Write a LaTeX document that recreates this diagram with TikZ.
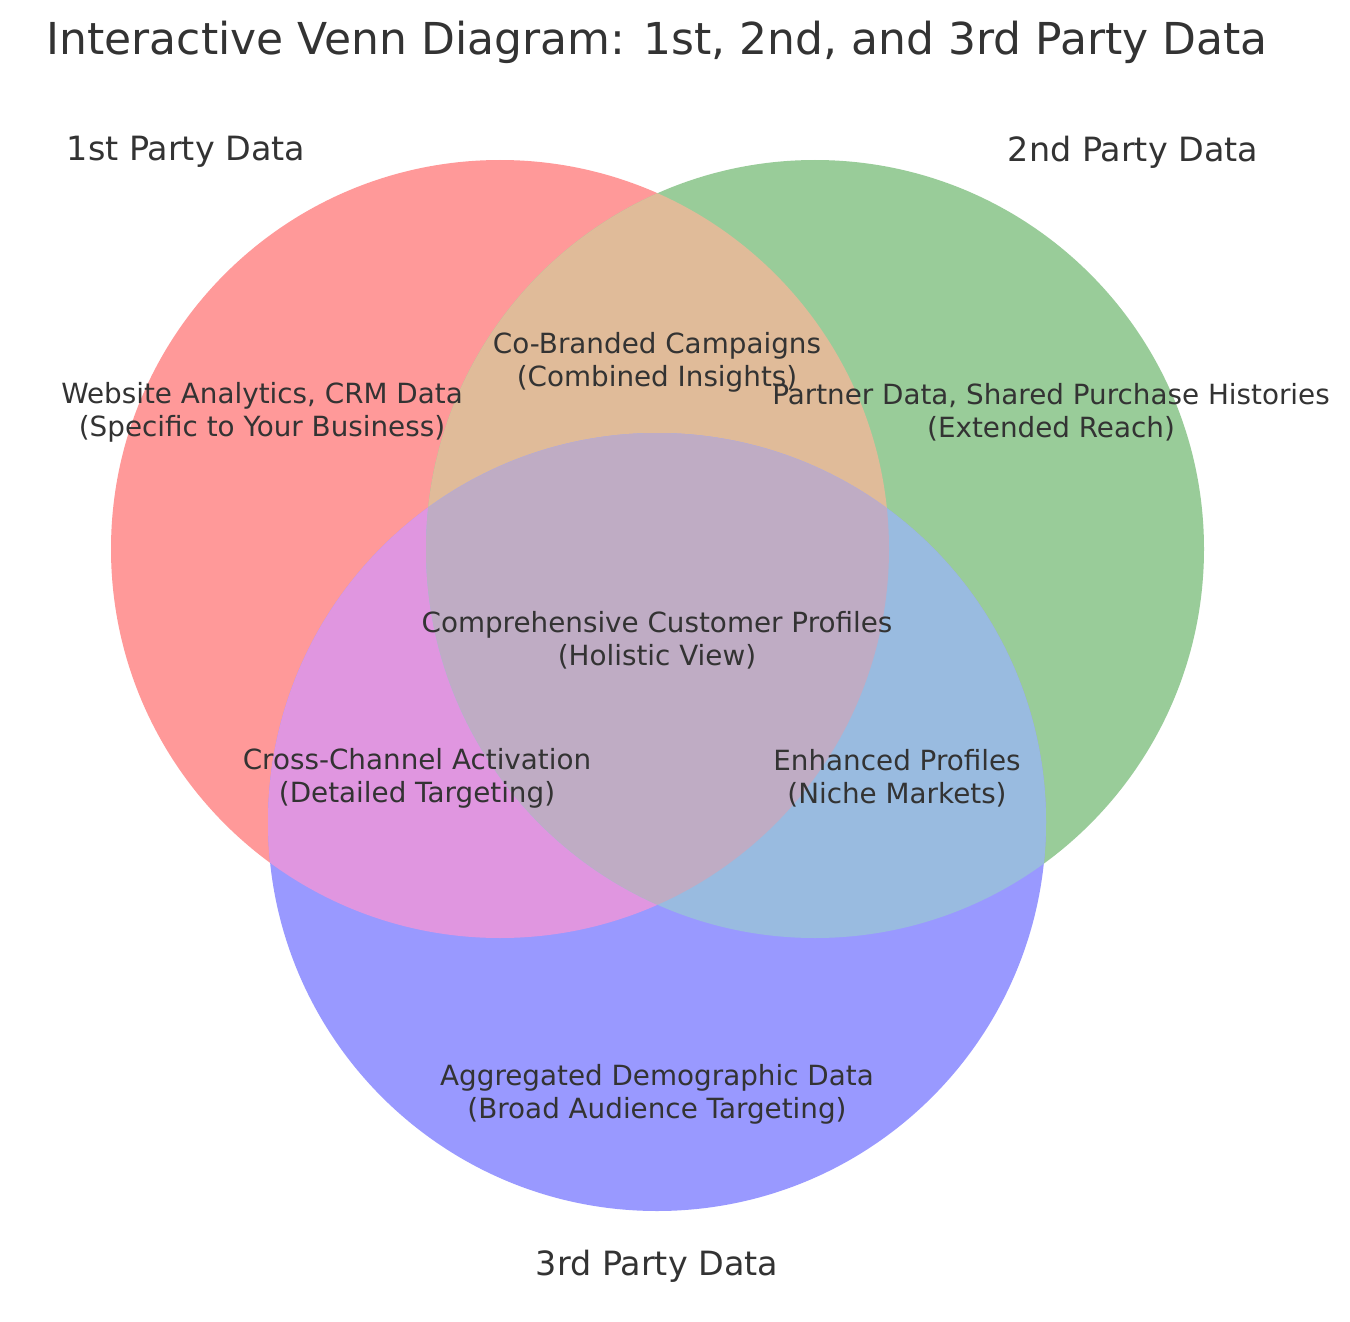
\documentclass[tikz,border=0pt]{standalone}
\usepackage{fontspec}
\setmainfont{DejaVu Sans}
\definecolor{cA}{HTML}{FF9999}
\definecolor{cB}{HTML}{99CC99}
\definecolor{cC}{HTML}{9999FF}
\definecolor{cAB}{HTML}{E0BB99}
\definecolor{cAC}{HTML}{E096E0}
\definecolor{cBC}{HTML}{99BBE0}
\definecolor{cABC}{HTML}{BFACC4}
\definecolor{txt}{HTML}{333333}
\tikzset{lbl/.style={text=txt,align=center,font=\fontsize{13.9pt}{16.5pt}\selectfont,inner sep=0pt},
setname/.style={text=txt,font=\fontsize{16.7pt}{20pt}\selectfont,inner sep=0pt}}
\begin{document}
\begin{tikzpicture}[x=0.5pt,y=-0.5pt]
\useasboundingbox (0,0) rectangle (1350,1322);
\fill[white] (0,0) rectangle (1350,1322);
\def\cA{(500,549) circle[radius=389]}
\def\cB{(815,549) circle[radius=389]}
\def\cC{(657,822) circle[radius=389]}
\fill[cA] \cA;
\fill[cB] \cB;
\fill[cC] \cC;
\begin{scope}\clip \cA; \fill[cAB] \cB; \fill[cAC] \cC; \end{scope}
\begin{scope}\clip \cB; \fill[cBC] \cC; \end{scope}
\begin{scope}\clip \cA; \clip \cB; \fill[cABC] \cC; \end{scope}
\node[text=txt,font=\fontsize{22pt}{26pt}\selectfont,inner sep=0pt] (title) at (657,42) {Interactive Venn Diagram: 1st, 2nd, and 3rd Party Data};
\node[setname] (nA) at (186,152) {1st Party Data};
\node[setname] (nB) at (1133,152) {2nd Party Data};
\node[setname] (nC) at (657,1266) {3rd Party Data};
\node[lbl] (rA) at (262,412) {Website Analytics, CRM Data\\(Specific to Your Business)};
\node[lbl] (rAB) at (657,362) {Co-Branded Campaigns\\(Combined Insights)};
\node[lbl] (rB) at (1051,412) {Partner Data, Shared Purchase Histories\\(Extended Reach)};
\node[lbl] (rABC) at (657,640) {Comprehensive Customer Profiles\\(Holistic View)};
\node[lbl] (rAC) at (417,778) {Cross-Channel Activation\\(Detailed Targeting)};
\node[lbl] (rBC) at (897,778) {Enhanced Profiles\\(Niche Markets)};
\node[lbl] (rC) at (657,1094) {Aggregated Demographic Data\\(Broad Audience Targeting)};
\end{tikzpicture}
\end{document}
